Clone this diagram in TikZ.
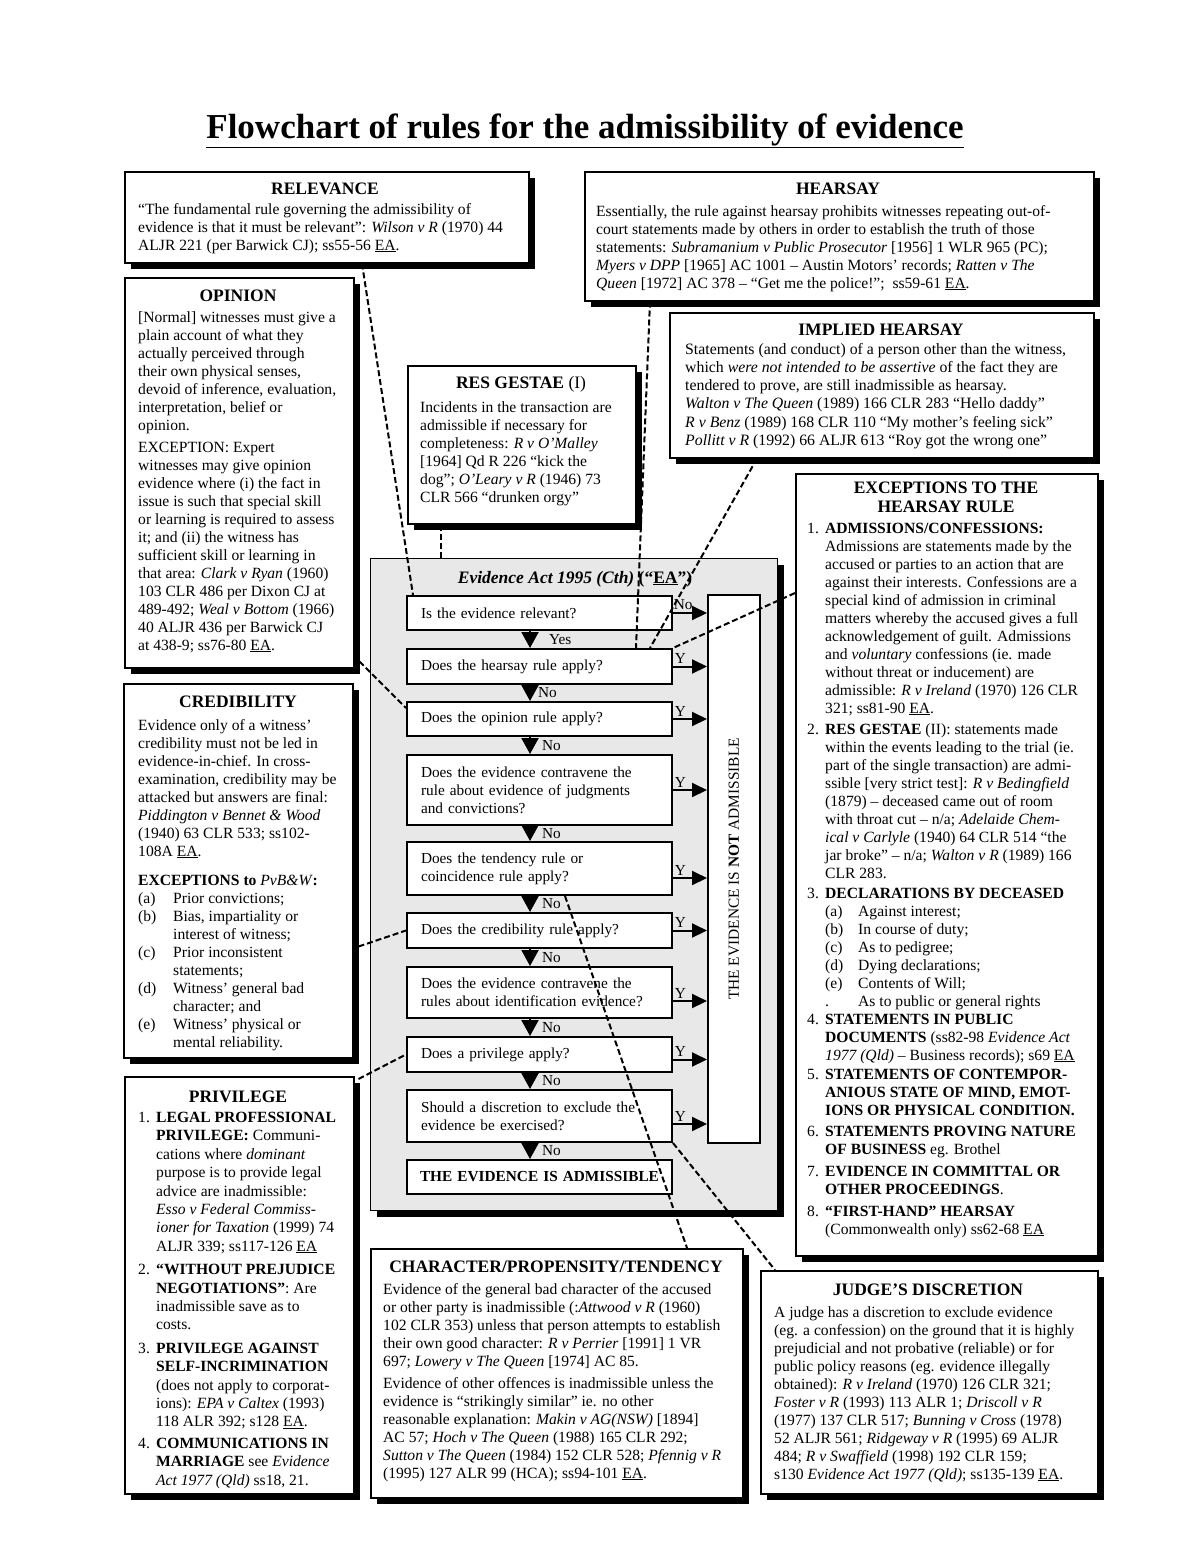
\documentclass[tikz,border=0pt]{standalone}
\usepackage{fontspec}
\setmainfont{Liberation Serif}
\usepackage{graphicx}
\usetikzlibrary{arrows.meta,shadows,calc}
\definecolor{eagrey}{gray}{0.91}
\newcommand{\mynum}[1]{\makebox[18pt][l]{#1}}
\newcommand{\myind}{\hspace*{18pt}}
\newcommand{\mysub}[1]{\makebox[33pt][l]{#1}}
\newcommand{\mysubc}[1]{\makebox[35pt][l]{#1}}
\tikzset{
  infobox/.style={draw, line width=1.5pt, fill=white, anchor=north west, inner sep=0pt,
    drop shadow={shadow xshift=6pt, shadow yshift=-6pt, fill=black, opacity=1}},
  boxhead/.style={font=\fontsize{17.5}{19}\selectfont\bfseries, anchor=base, inner sep=0pt},
  boxbody/.style={font=\fontsize{15.6}{18}\selectfont, align=left, anchor=north west, inner sep=0pt},
  flowbox/.style={draw, line width=2pt, fill=white, anchor=north west, minimum width=265pt,
    text width=237pt, inner xsep=14pt, inner ysep=2pt, align=left, font=\fontsize{15.3}{18}\selectfont},
  downarr/.style={line width=2pt, -{Triangle[length=16pt,width=17pt]}},
  rightarr/.style={line width=2pt, -{Triangle[length=15pt,width=14pt]}},
  flowlab/.style={font=\fontsize{15.3}{16}\selectfont, inner sep=0pt},
  dashconn/.style={line width=2pt, dash pattern=on 6pt off 3pt},
}
\begin{document}
\begin{tikzpicture}[x=1pt,y=-1pt]
\useasboundingbox (0,0) rectangle (1200,1553);

% Title
\node[anchor=base, inner sep=0pt, font=\fontsize{35}{40}\selectfont\bfseries] (title) at (585,138)
  {\underline{Flowchart of rules for the admissibility of evidence}};

% RELEVANCE
\node[infobox, minimum width=404pt, minimum height=91pt] (relF) at (124,171) {};
\node[boxhead] (relH) at (325,194) {RELEVANCE};
\node[boxbody] (relT) at (138,201.4) {\strut “The fundamental rule governing the admissibility of\\
evidence is that it must be relevant”: \textit{Wilson v R} (1970) 44\\
ALJR 221 (per Barwick CJ); ss55-56 \underline{EA}.};

% HEARSAY
\node[infobox, minimum width=509pt, minimum height=129pt] (hsF) at (584,171) {};
\node[boxhead] (hsH) at (838,194) {HEARSAY};
\node[boxbody] (hsT) at (596,203.4) {\strut Essentially, the rule against hearsay prohibits witnesses repeating out-of-\\
court statements made by others in order to establish the truth of those\\
statements: \textit{Subramanium v Public Prosecutor} [1956] 1 WLR 965 (PC);\\
\textit{Myers v DPP} [1965] AC 1001 -- Austin Motors’ records; \textit{Ratten v The}\\
\textit{Queen} [1972] AC 378 -- “Get me the police!”;\ \ ss59-61 \underline{EA}.};

% OPINION
\node[infobox, minimum width=229pt, minimum height=390pt] (opF) at (124,277) {};
\node[boxhead] (opH) at (238,301) {OPINION};
\node[boxbody] (opT) at (138,309.4) {\strut [Normal] witnesses must give a\\
plain account of what they\\
actually perceived through\\
their own physical senses,\\
devoid of inference, evaluation,\\
interpretation, belief or\\
opinion.\\[4pt]
EXCEPTION: Expert\\
witnesses may give opinion\\
evidence where (i) the fact in\\
issue is such that special skill\\
or learning is required to assess\\
it; and (ii) the witness has\\
sufficient skill or learning in\\
that area: \textit{Clark v Ryan} (1960)\\
103 CLR 486 per Dixon CJ at\\
489-492; \textit{Weal v Bottom} (1966)\\
40 ALJR 436 per Barwick CJ\\
at 438-9; ss76-80 \underline{EA}.};

% RES GESTAE (I)
\node[infobox, minimum width=228pt, minimum height=158pt] (rgF) at (407,365) {};
\node[boxhead] (rgH) at (521,388) {RES GESTAE \textmd{(I)}};
\node[boxbody] (rgT) at (420,399.4) {\strut Incidents in the transaction are\\
admissible if necessary for\\
completeness: \textit{R v O'Malley}\\
{[1964]} Qd R 226 “kick the\\
dog”; \textit{O'Leary v R} (1946) 73\\
CLR 566 “drunken orgy”};

% IMPLIED HEARSAY
\node[infobox, minimum width=424pt, minimum height=145pt] (ihF) at (669,312) {};
\node[boxhead] (ihH) at (881,335) {IMPLIED HEARSAY};
\node[boxbody, font=\fontsize{15.8}{18.2}\selectfont] (ihT) at (685,341.4) {\strut Statements (and conduct) of a person other than the witness,\\
which \textit{were not intended to be assertive} of the fact they are\\
tendered to prove, are still inadmissible as hearsay.\\
\textit{Walton v The Queen} (1989) 166 CLR 283 “Hello daddy”\\
\textit{R v Benz} (1989) 168 CLR 110 “My mother’s feeling sick”\\
\textit{Pollitt v R} (1992) 66 ALJR 613 “Roy got the wrong one”};

% EXCEPTIONS TO THE HEARSAY RULE
\node[infobox, minimum width=302pt, minimum height=782pt] (exF) at (795,473) {};
\node[boxhead, anchor=north, align=center] (exH) at (946,479.5) {\strut EXCEPTIONS TO THE\\ HEARSAY RULE};
\node[boxbody] (exT) at (807,520.4) {\strut\mynum{1.}\textbf{ADMISSIONS/CONFESSIONS:}\\
\myind Admissions are statements made by the\\
\myind accused or parties to an action that are\\
\myind against their interests. Confessions are a\\
\myind special kind of admission in criminal\\
\myind matters whereby the accused gives a full\\
\myind acknowledgement of guilt. Admissions\\
\myind and \textit{voluntary} confessions (ie. made\\
\myind without threat or inducement) are\\
\myind admissible: \textit{R v Ireland} (1970) 126 CLR\\
\myind 321; ss81-90 \underline{EA}.\\[3pt]
\mynum{2.}\textbf{RES GESTAE} (II): statements made\\
\myind within the events leading to the trial (ie.\\
\myind part of the single transaction) are admi-\\
\myind ssible [very strict test]: \textit{R v Bedingfield}\\
\myind (1879) -- deceased came out of room\\
\myind with throat cut -- n/a; \textit{Adelaide Chem-}\\
\myind \textit{ical v Carlyle} (1940) 64 CLR 514 “the\\
\myind jar broke” -- n/a; \textit{Walton v R} (1989) 166\\
\myind CLR 283.\\[2pt]
\mynum{3.}\textbf{DECLARATIONS BY DECEASED}\\
\myind\mysub{(a)}Against interest;\\
\myind\mysub{(b)}In course of duty;\\
\myind\mysub{(c)}As to pedigree;\\
\myind\mysub{(d)}Dying declarations;\\
\myind\mysub{(e)}Contents of Will;\\
\myind\mysub{.}As to public or general rights\\
\mynum{4.}\textbf{STATEMENTS IN PUBLIC}\\
\myind\textbf{DOCUMENTS} (ss82-98 \textit{Evidence Act}\\
\myind\textit{1977 (Qld)} -- Business records); s69 \underline{EA}\\[1pt]
\mynum{5.}\textbf{STATEMENTS OF CONTEMPOR-}\\
\myind\textbf{ANIOUS STATE OF MIND, EMOT-}\\
\myind\textbf{IONS OR PHYSICAL CONDITION.}\\[3pt]
\mynum{6.}\textbf{STATEMENTS PROVING NATURE}\\
\myind\textbf{OF BUSINESS} eg. Brothel\\[4pt]
\mynum{7.}\textbf{EVIDENCE IN COMMITTAL OR}\\
\myind\textbf{OTHER PROCEEDINGS}.\\[4pt]
\mynum{8.}\textbf{“FIRST-HAND” HEARSAY}\\
\myind(Commonwealth only) ss62-68 \underline{EA}};

% CREDIBILITY
\node[infobox, minimum width=229pt, minimum height=374pt] (crF) at (123,683) {};
\node[boxhead] (crH) at (238,707) {CREDIBILITY};
\node[boxbody] (crT) at (138,717.4) {\strut Evidence only of a witness’\\
credibility must not be led in\\
evidence-in-chief. In cross-\\
examination, credibility may be\\
attacked but answers are final:\\
\textit{Piddington v Bennet \& Wood}\\
(1940) 63 CLR 533; ss102-\\
108A \underline{EA}.\\[11pt]
\textbf{EXCEPTIONS to} \textit{PvB\&W}\textbf{:}\\
\mysubc{(a)}Prior convictions;\\
\mysubc{(b)}Bias, impartiality or\\
\hspace*{35pt}interest of witness;\\
\mysubc{(c)}Prior inconsistent\\
\hspace*{35pt}statements;\\
\mysubc{(d)}Witness’ general bad\\
\hspace*{35pt}character; and\\
\mysubc{(e)}Witness’ physical or\\
\hspace*{35pt}mental reliability.};

% PRIVILEGE
\node[infobox, minimum width=229pt, minimum height=417pt] (prF) at (124,1076) {};
\node[boxhead] (prH) at (238,1102) {PRIVILEGE};
\node[boxbody, font=\fontsize{15.6}{18.4}\selectfont] (prT) at (138,1109.4) {\strut\mynum{1.}\textbf{LEGAL PROFESSIONAL}\\
\myind\textbf{PRIVILEGE:} Communi-\\
\myind cations where \textit{dominant}\\
\myind purpose is to provide legal\\
\myind advice are inadmissible:\\
\myind\textit{Esso v Federal Commiss-}\\
\myind\textit{ioner for Taxation} (1999) 74\\
\myind ALJR 339; ss117-126 \underline{EA}\\[5pt]
\mynum{2.}\textbf{“WITHOUT PREJUDICE}\\
\myind\textbf{NEGOTIATIONS”}: Are\\
\myind inadmissible save as to\\
\myind costs.\\[5pt]
\mynum{3.}\textbf{PRIVILEGE AGAINST}\\
\myind\textbf{SELF-INCRIMINATION}\\
\myind (does not apply to corporat-\\
\myind ions): \textit{EPA v Caltex} (1993)\\
\myind 118 ALR 392; s128 \underline{EA}.\\[3pt]
\mynum{4.}\textbf{COMMUNICATIONS IN}\\
\myind\textbf{MARRIAGE} see \textit{Evidence}\\
\myind\textit{Act 1977 (Qld)} ss18, 21.};

% CHARACTER/PROPENSITY/TENDENCY
\node[infobox, minimum width=372pt, minimum height=249pt] (chF) at (370,1248) {};
\node[boxhead] (chH) at (556,1272) {CHARACTER/PROPENSITY/TENDENCY};
\node[boxbody] (chT) at (383,1281.4) {\strut Evidence of the general bad character of the accused\\
or other party is inadmissible (:\textit{Attwood v R} (1960)\\
102 CLR 353) unless that person attempts to establish\\
their own good character: \textit{R v Perrier} [1991] 1 VR\\
697; \textit{Lowery v The Queen} [1974] AC 85.\\[4pt]
Evidence of other offences is inadmissible unless the\\
evidence is “strikingly similar” ie. no other\\
reasonable explanation: \textit{Makin v AG(NSW)} [1894]\\
AC 57; \textit{Hoch v The Queen} (1988) 165 CLR 292;\\
\textit{Sutton v The Queen} (1984) 152 CLR 528; \textit{Pfennig v R}\\
(1995) 127 ALR 99 (HCA); ss94-101 \underline{EA}.};

% JUDGE'S DISCRETION
\node[infobox, minimum width=337pt, minimum height=223pt] (jdF) at (760,1270) {};
\node[boxhead] (jdH) at (928,1295) {JUDGE’S DISCRETION};
\node[boxbody] (jdT) at (774,1304.4) {\strut A judge has a discretion to exclude evidence\\
(eg. a confession) on the ground that it is highly\\
prejudicial and not probative (reliable) or for\\
public policy reasons (eg. evidence illegally\\
obtained): \textit{R v Ireland} (1970) 126 CLR 321;\\
\textit{Foster v R} (1993) 113 ALR 1; \textit{Driscoll v R}\\
(1977) 137 CLR 517; \textit{Bunning v Cross} (1978)\\
52 ALJR 561; \textit{Ridgeway v R} (1995) 69 ALJR\\
484; \textit{R v Swaffield} (1998) 192 CLR 159;\\
s130 \textit{Evidence Act 1977 (Qld)}; ss135-139 \underline{EA}.};

% Evidence Act grey panel
\node[draw, line width=1.2pt, fill=eagrey, anchor=north west, minimum width=407pt, minimum height=652pt,
  inner sep=0pt, drop shadow={shadow xshift=6pt, shadow yshift=-6pt, fill=black, opacity=1}] (ea) at (370,558) {};
\node[anchor=base, inner sep=0pt, font=\fontsize{17.5}{19}\selectfont\bfseries] (eaT) at (575,583)
  {\textit{Evidence Act 1995 (Cth)} (“\underline{EA}”)};

% Flow boxes
\node[flowbox, minimum height=34pt] (q1) at (406,595) {Is the evidence relevant?};
\node[flowbox, minimum height=35pt] (q2) at (406,648) {Does the hearsay rule apply?};
\node[flowbox, minimum height=34pt] (q3) at (406,701) {Does the opinion rule apply?};
\node[flowbox, minimum height=70pt] (q4) at (406,754) {Does the evidence contravene the\\ rule about evidence of judgments\\ and convictions?};
\node[flowbox, minimum height=53pt] (q5) at (406,841) {Does the tendency rule or\\ coincidence rule apply?};
\node[flowbox, minimum height=35pt] (q6) at (406,912) {Does the credibility rule apply?};
\node[flowbox, minimum height=51pt] (q7) at (406,966) {Does the evidence contravene the\\ rules about identification evidence?};
\node[flowbox, minimum height=35pt] (q8) at (406,1036) {Does a privilege apply?};
\node[flowbox, minimum height=52pt] (q9) at (406,1089) {Should a discretion to exclude the\\ evidence be exercised?};
\node[flowbox, minimum height=34pt, text width=255pt, inner xsep=5pt, align=center] (q10) at (406,1159) {\textbf{THE EVIDENCE IS ADMISSIBLE}};

% Not admissible
\node[draw, line width=2pt, fill=white, anchor=north west, minimum width=52pt, minimum height=548pt, inner sep=0pt,
  font=\fontsize{15.4}{18}\selectfont] (na) at (707,594) {\rotatebox{90}{THE EVIDENCE IS \textbf{NOT} ADMISSIBLE}};

% Down arrows
\draw[downarr] ($(q1.south west)+(124,0)$) -- ($(q2.north west)+(124,0)$) node[flowlab, midway, anchor=west, xshift=18pt] {Yes};
\draw[downarr] ($(q2.south west)+(124,0)$) -- ($(q3.north west)+(124,0)$) node[flowlab, midway, anchor=west, xshift=7pt] {No};
\draw[downarr] ($(q3.south west)+(124,0)$) -- ($(q4.north west)+(124,0)$) node[flowlab, midway, anchor=west, xshift=11pt] {No};
\draw[downarr] ($(q4.south west)+(124,0)$) -- ($(q5.north west)+(124,0)$) node[flowlab, midway, anchor=west, xshift=11pt] {No};
\draw[downarr] ($(q5.south west)+(124,0)$) -- ($(q6.north west)+(124,0)$) node[flowlab, midway, anchor=west, xshift=11pt] {No};
\draw[downarr] ($(q6.south west)+(124,0)$) -- ($(q7.north west)+(124,0)$) node[flowlab, midway, anchor=west, xshift=11pt] {No};
\draw[downarr] ($(q7.south west)+(124,0)$) -- ($(q8.north west)+(124,0)$) node[flowlab, midway, anchor=west, xshift=11pt] {No};
\draw[downarr] ($(q8.south west)+(124,0)$) -- ($(q9.north west)+(124,0)$) node[flowlab, midway, anchor=west, xshift=11pt] {No};
\draw[downarr] ($(q9.south west)+(124,0)$) -- ($(q10.north west)+(124,0)$) node[flowlab, midway, anchor=west, xshift=11pt] {No};

% Right arrows
\draw[rightarr] (q1.east) -- (q1.east -| na.west) node[flowlab, pos=0.3, anchor=south, yshift=2pt] {No};
\draw[rightarr] (q2.east) -- (q2.east -| na.west) node[flowlab, pos=0.22, anchor=south, yshift=2pt] {Y};
\draw[rightarr] (q3.east) -- (q3.east -| na.west) node[flowlab, pos=0.22, anchor=south, yshift=2pt] {Y};
\draw[rightarr] (q4.east) -- (q4.east -| na.west) node[flowlab, pos=0.22, anchor=south, yshift=2pt] {Y};
\draw[rightarr] ($(q5.east)+(0,9.5)$) -- ($(q5.east -| na.west)+(0,9.5)$) node[flowlab, pos=0.22, anchor=south, yshift=2pt] {Y};
\draw[rightarr] (q6.east) -- (q6.east -| na.west) node[flowlab, pos=0.22, anchor=south, yshift=2pt] {Y};
\draw[rightarr] ($(q7.east)+(0,8.5)$) -- ($(q7.east -| na.west)+(0,8.5)$) node[flowlab, pos=0.22, anchor=south, yshift=2pt] {Y};
\draw[rightarr] ($(q8.east)+(0,5)$) -- ($(q8.east -| na.west)+(0,5)$) node[flowlab, pos=0.22, anchor=south, yshift=2pt] {Y};
\draw[rightarr] ($(q9.east)+(0,8)$) -- ($(q9.east -| na.west)+(0,8)$) node[flowlab, pos=0.22, anchor=south, yshift=2pt] {Y};

% Dashed connectors
\coordinate (rgdrop) at ($(rgF.south west)+(34,0)$);
\draw[dashconn] ($(relF.south west)+(238,0)$) -- ($(q1.north west)+(7,0)$);
\draw[dashconn] (rgdrop) -- (rgdrop |- ea.north);
\draw[dashconn] ($(hsF.south west)+(66,0)$) -- ($(q2.north west)+(230,0)$);
\draw[dashconn] ($(ihF.south west)+(88,0)$) -- ($(q2.north west)+(244,0)$);
\draw[dashconn] ($(exF.north west)+(0,120)$) -- (q2.north east);
\draw[dashconn] ($(opF.south east)+(5,-7)$) -- ($(q3.north west)+(0,7)$);
\draw[dashconn] ($(crF.south east)+(5,-112)$) -- (q6.west);
\draw[dashconn] ($(prF.north east)+(4,3)$) -- (q8.west);
\draw[dashconn] ($(q5.south west)+(159,0)$) -- ($(chF.north west)+(317,0)$);
\draw[dashconn] (q9.south east) -- ($(jdF.north west)+(15,0)$);
\end{tikzpicture}
\end{document}
